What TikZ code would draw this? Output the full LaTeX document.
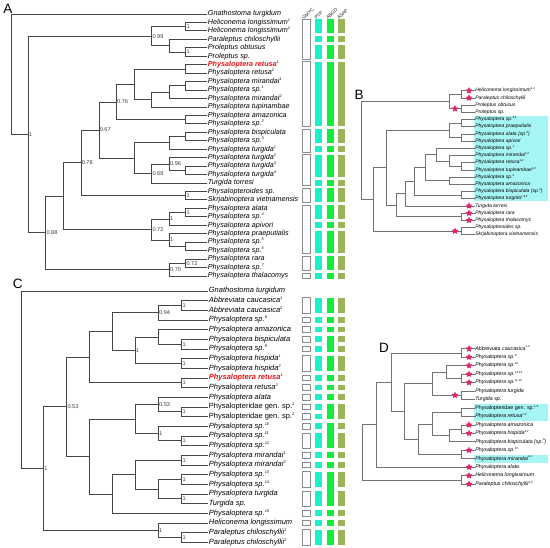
\documentclass[tikz,border=0pt]{standalone}
\usepackage{fontspec}
\setmainfont{Liberation Sans}
\usetikzlibrary{shapes.geometric}
\definecolor{linec}{RGB}{70,70,70}
\definecolor{lineb}{RGB}{115,115,115}
\definecolor{ptpc}{RGB}{30,240,200}
\definecolor{abgdc}{RGB}{20,235,60}
\definecolor{asapc}{RGB}{155,180,90}
\definecolor{gmb}{RGB}{140,140,140}
\definecolor{cyanbg}{RGB}{165,245,245}
\definecolor{starc}{RGB}{238,30,110}
\definecolor{redt}{RGB}{235,20,20}
\newcommand\sx[1]{\raisebox{0.42em}{\fontsize{3.8}{4}\selectfont #1}}
\newcommand\sxs[1]{\raisebox{0.42em}{\fontsize{2.9}{3}\selectfont #1}}
\newcommand\Gcol[3]{\draw[gmy] (302.5,{#1(#2)-3}) rectangle (310.5,{#1(#3)+2.6});}
\newcommand\Pcol[3]{\fill[ptpc] (315,{#1(#2)-3}) rectangle (322,{#1(#3)+2.6});}
\newcommand\Bcol[3]{\fill[abgdc] (326.5,{#1(#2)-3}) rectangle (333.5,{#1(#3)+2.6});}
\newcommand\Scol[3]{\fill[asapc] (337.5,{#1(#2)-3}) rectangle (345,{#1(#3)+2.6});}
\begin{document}
\begin{tikzpicture}[x=1pt,y=-1pt,
 declare function={ya(\i)=14+(\i-1)*8.45; yc(\i)=291+(\i-1)*9.665; yb(\i)=90.7+(\i-1)*7.2; yd(\i)=348.7+(\i-1)*8.46;},
 br/.style={draw=linec,line width=0.8pt},
 bs/.style={draw=lineb,line width=0.55pt},
 la/.style={anchor=west,inner sep=0.7pt,text height=5.2pt,text depth=1.5pt,font=\fontsize{7.2}{8}\selectfont\itshape},
 lcc/.style={anchor=west,inner sep=0.7pt,text height=5.4pt,text depth=1.6pt,font=\fontsize{7.5}{8}\selectfont\itshape},
 lb/.style={anchor=west,inner sep=0.6pt,text height=3.6pt,text depth=1pt,font=\fontsize{5}{6}\selectfont\itshape},
 ld/.style={anchor=west,inner sep=0.6pt,text height=3.8pt,text depth=1.1pt,font=\fontsize{5.3}{6}\selectfont\itshape},
 sl/.style={anchor=west,inner sep=0.6pt,font=\fontsize{5.6}{6}\selectfont,text=black!75},
 hd/.style={rotate=45,anchor=base west,inner sep=0pt,font=\fontsize{4.8}{5}\selectfont,text=black!85},
 pl/.style={anchor=base,inner sep=0pt,font=\fontsize{13.5}{14}\selectfont},
 st/.style={star,star points=5,star point ratio=2.1,fill=starc,inner sep=0pt,minimum size=7.2pt},
 gmy/.style={draw=gmb,fill=white,line width=0.5pt}]
\useasboundingbox (0,0) rectangle (550,548);
\fill[white] (0,0) rectangle (550,548);

% ---------------- panel letters ----------------
\node[pl] (pA) at (8,13.3) {A};
\node[pl] (pB) at (359.2,100) {B};
\node[pl] (pC) at (17.7,288.3) {C};
\node[pl] (pD) at (384,352.7) {D};

% ---------------- headers ----------------
\node[hd] (hG) at (304,20) {GMYC};
\node[hd] (hP) at (316.5,20) {PTP};
\node[hd] (hB) at (328,20) {ABGD};
\node[hd] (hS) at (339,20) {ASAP};

% ---------------- bars A ----------------
\foreach \a/\b in {2/6,7/14,15/17,18/21,22/23,24/29,30/31,32/32} {\Gcol{ya}{\a}{\b}}
\foreach \a/\b in {2/3,4/4,5/6,7/14,15/16,17/17,18/20,21/21,22/23,24/25,26/26,27/29,30/31,32/32}
 {\Pcol{ya}{\a}{\b} \Bcol{ya}{\a}{\b} \Scol{ya}{\a}{\b}}

% ---------------- bars C ----------------
\foreach \a/\b in {2/3,4/4,5/5,6/6,7/7,8/9,10/10,11/11,12/12,13/13,14/14,15/15,16/17,18/18,19/19,20/21,22/23,24/24,25/25,26/27}
 {\Gcol{yc}{\a}{\b} \Pcol{yc}{\a}{\b}}
\foreach \a/\b in {2/3,4/4,5/5,6/7,8/9,10/10,11/11,12/12,13/14,15/17,18/18,19/19,20/23,24/24,25/25,26/27}
 {\Bcol{yc}{\a}{\b}}
\foreach \a/\b in {2/3,4/4,5/5,6/6,7/7,8/9,10/10,11/11,12/12,13/14,15/15,16/17,18/18,19/19,20/21,22/23,24/24,25/25,26/27}
 {\Scol{yc}{\a}{\b}}

% ---------------- cyan backgrounds B, D ----------------
\fill[cyanbg] (474.3,116) rectangle (548.3,200.6);
\fill[cyanbg] (474.3,404) rectangle (548.3,420.7);
\fill[cyanbg] (474.3,455.3) rectangle (548.3,462.7);

% ================= PANEL A =================
\foreach \i/\t in {1/{Gnathostoma turgidum},2/{Heliconema longissimum\sx{1}},3/{Heliconema longissimum\sx{2}},
 4/{Paraleptus chiloschyllii},5/{Proleptus obtusus},6/{Proleptus sp.},
 7/{\textcolor{redt}{\bfseries Physaloptera retusa\sx{1}}},8/{Physaloptera retusa\sx{2}},
 9/{Physaloptera mirandai\sx{1}},10/{Physaloptera sp.\sx{1}},11/{Physaloptera mirandai\sx{2}},
 12/{Physaloptera tupinambae},13/{Physaloptera amazonica},14/{Physaloptera sp.\sx{2}},
 15/{Physaloptera bispiculata},16/{Physaloptera sp.\sx{3}},17/{Physaloptera turgida\sx{1}},
 18/{Physaloptera turgida\sx{2}},19/{Physaloptera turgida\sx{3}},20/{Physaloptera turgida\sx{4}},
 21/{Turgida torresi},22/{Physalopteroides sp.},23/{Skrjabinoptera vietnamensis},
 24/{Physaloptera alata},25/{Physaloptera sp.\sx{4}},26/{Physaloptera apivori},
 27/{Physaloptera praeputialis},28/{Physaloptera sp.\sx{5}},29/{Physaloptera sp.\sx{6}},
 30/{Physaloptera rara},31/{Physaloptera sp.\sx{7}},32/{Physaloptera thalacomys}}
 {\coordinate (tA\i) at (207,{ya(\i)}); \node[la] (LA\i) at (tA\i) {\t};}

\coordinate (aRoot) at (11,74.27);
\coordinate (aN1) at (28,134.535);
\coordinate (a099) at (151.7,36.18);
\coordinate (aHel) at (185.7,26.675);
\coordinate (aPpr) at (169.3,45.69);
\coordinate (aPro) at (185.7,52.025);
\coordinate (a088) at (45.7,232.89);
\coordinate (aX) at (63.3,196.17);
\coordinate (a078) at (81,162.86);
\coordinate (a067) at (99,130.05);
\coordinate (a076) at (116.3,101.93);
\coordinate (aRm) at (134,84.24);
\coordinate (aRet) at (185.7,68.925);
\coordinate (aTup) at (151.7,99.555);
\coordinate (aMir2) at (169.3,92.16);
\coordinate (aMir) at (185.7,85.825);
\coordinate (aAma) at (185.7,119.625);
\coordinate (aBtg) at (134,158.18);
\coordinate (aBt) at (169.3,142.86);
\coordinate (aBis) at (185.7,136.525);
\coordinate (a068) at (151.7,173.49);
\coordinate (a096) at (169.3,163.99);
\coordinate (aT34) at (185.7,170.325);
\coordinate (aPds) at (185.7,195.675);
\coordinate (a072) at (151.7,229.475);
\coordinate (aAlap) at (169.3,218.91);
\coordinate (aAla) at (185.7,212.575);
\coordinate (aPrp) at (169.3,240.04);
\coordinate (aS56) at (185.7,246.375);
\coordinate (a070) at (169.3,269.61);
\coordinate (aRar) at (185.7,263.275);

\foreach \p/\c in {aRoot/tA1,aRoot/aN1,aN1/a099,aN1/a088,a099/aHel,a099/aPpr,aHel/tA2,aHel/tA3,
 aPpr/tA4,aPpr/aPro,aPro/tA5,aPro/tA6,a088/aX,a088/a070,aX/a078,aX/a072,a078/a067,a078/aPds,
 a067/a076,a067/aBtg,a076/aRm,a076/aAma,aRm/aRet,aRm/aTup,aRet/tA7,aRet/tA8,aTup/aMir2,aTup/tA12,
 aMir2/aMir,aMir2/tA11,aMir/tA9,aMir/tA10,aAma/tA13,aAma/tA14,aBtg/aBt,aBtg/a068,aBt/aBis,aBt/tA17,
 aBis/tA15,aBis/tA16,a068/a096,a068/tA21,a096/tA18,a096/aT34,aT34/tA19,aT34/tA20,aPds/tA22,aPds/tA23,
 a072/aAlap,a072/aPrp,aAlap/aAla,aAlap/tA26,aAla/tA24,aAla/tA25,aPrp/tA27,aPrp/aS56,aS56/tA28,aS56/tA29,
 a070/aRar,a070/tA32,aRar/tA30,aRar/tA31}
 {\draw[br] (\p) |- (\c);}

\foreach \n/\v in {aHel/1,a099/0.99,aPro/1,aN1/1,a076/0.76,a067/0.67,a078/0.78,a096/0.96,a068/0.68,
 aPds/1,a088/0.88,aAla/1,aAlap/1,a072/0.72,aPrp/1,aRar/0.72,a070/0.70}
 {\node[sl] (s\n) at (\n) {\v};}

% ================= PANEL C =================
\foreach \i/\t in {1/{Gnathostoma turgidum},2/{Abbreviata caucasica\sx{1}},3/{Abbreviata caucasica\sx{2}},
 4/{Physaloptera sp.\sx{8}},5/{Physaloptera amazonica},6/{Physaloptera bispiculata},7/{Physaloptera sp.\sx{9}},
 8/{Physaloptera hispida\sx{1}},9/{Physaloptera hispida\sx{2}},
 10/{\textcolor{redt}{\bfseries Physaloptera retusa\sx{1}}},11/{Physaloptera retusa\sx{2}},
 12/{Physaloptera alata},13/{\upshape Physalopteridae gen. sp.\sx{1}},14/{\upshape Physalopteridae gen. sp.\sx{2}},
 15/{Physaloptera sp.\sx{10}},16/{Physaloptera sp.\sx{11}},17/{Physaloptera sp.\sx{12}},
 18/{Physaloptera mirandai\sx{1}},19/{Physaloptera mirandai\sx{2}},20/{Physaloptera sp.\sx{13}},
 21/{Physaloptera sp.\sx{14}},22/{Physaloptera turgida},23/{Turgida sp.},24/{Physaloptera sp.\sx{15}},
 25/{Heliconema longissimum},26/{Paraleptus chiloschyllii\sx{1}},27/{Paraleptus chiloschyllii\sx{2}}}
 {\coordinate (tC\i) at (208,{yc(\i)}); \node[lcc] (LC\i) at (tC\i) {\t};}

\coordinate (cRoot) at (21,379.76);
\coordinate (c43) at (43.7,468.52);
\coordinate (c053a) at (66.7,406.83);
\coordinate (c89a) at (89.3,357.145);
\coordinate (c112a) at (112.7,331.472);
\coordinate (c094) at (158.3,312.746);
\coordinate (cAbb) at (181.7,305.4975);
\coordinate (c135a) at (135,350.198);
\coordinate (cAmz) at (158.3,336.909);
\coordinate (cBs9) at (181.7,344.1575);
\coordinate (cHsp) at (181.7,363.4875);
\coordinate (cRet) at (181.7,382.8175);
\coordinate (c89b) at (89.3,456.51);
\coordinate (c135b) at (135,419.06);
\coordinate (c053b) at (158.3,404.564);
\coordinate (cGen) at (181.7,411.8125);
\coordinate (cS10) at (158.3,433.559);
\coordinate (cS1112) at (181.7,440.8075);
\coordinate (c112b) at (112.7,493.965);
\coordinate (c135c) at (135,474.635);
\coordinate (cMrd) at (181.7,460.1375);
\coordinate (cSt) at (158.3,489.1325);
\coordinate (cS1314) at (181.7,479.4675);
\coordinate (cTur) at (181.7,498.7975);
\coordinate (cHel) at (158.3,530.209);
\coordinate (cPar) at (181.7,537.4575);

\foreach \p/\c in {cRoot/tC1,cRoot/c43,c43/c053a,c43/cHel,c053a/c89a,c053a/c89b,c89a/c112a,c89a/cRet,
 c112a/c094,c112a/c135a,c094/cAbb,c094/tC4,cAbb/tC2,cAbb/tC3,c135a/cAmz,c135a/cHsp,cAmz/tC5,cAmz/cBs9,
 cBs9/tC6,cBs9/tC7,cHsp/tC8,cHsp/tC9,cRet/tC10,cRet/tC11,c89b/c135b,c89b/c112b,c135b/c053b,c135b/cS10,
 c053b/tC12,c053b/cGen,cGen/tC13,cGen/tC14,cS10/tC15,cS10/cS1112,cS1112/tC16,cS1112/tC17,
 c112b/c135c,c112b/tC24,c135c/cMrd,c135c/cSt,cMrd/tC18,cMrd/tC19,cSt/cS1314,cSt/cTur,
 cS1314/tC20,cS1314/tC21,cTur/tC22,cTur/tC23,cHel/tC25,cHel/cPar,cPar/tC26,cPar/tC27}
 {\draw[br] (\p) |- (\c);}

\foreach \n/\v in {cAbb/1,c094/0.94,cBs9/1,c135a/1,cHsp/1,cRet/1,c053a/0.53,c053b/0.53,cGen/1,
 cS10/1,cS1112/1,cMrd/1,cS1314/1,cTur/1,c43/1,cHel/1,cPar/1}
 {\node[sl] (s\n) at (\n) {\v};}

% ================= PANEL B =================
\foreach \i/\t in {1/{Heliconema longissimum\sxs{1,2}},2/{Paraleptus chiloschyllii},3/{Proleptus obtusus},
 4/{Proleptus sp.},5/{Physaloptera sp.\sxs{5,6}},6/{Physaloptera praeputialis},7/{Physaloptera alata (sp.\sxs{4})},
 8/{Physaloptera apivori},9/{Physaloptera sp.\sxs{1}},10/{Physaloptera mirandai\sxs{1,2}},
 11/{Physaloptera retusa\sxs{1,2}},12/{Physaloptera tupinambae\sxs{1,2}},13/{Physaloptera sp.\sxs{2}},
 14/{Physaloptera amazonica},15/{Physaloptera bispiculata (sp.\sxs{3})},16/{Physaloptera turgida\sxs{1,3,4}},
 17/{Turgida torresi},18/{Physaloptera rara},19/{Physaloptera thalacomys},20/{Physalopteroides sp.},
 21/{Skrjabinoptera vietnamensis}}
 {\coordinate (tB\i) at (474.5,{yb(\i)}); \node[lb] (LB\i) at (tB\i) {\t};}

\coordinate (bRoot) at (361,150.46);
\coordinate (bTop) at (449,101.5);
\coordinate (bHp) at (461,94.3);
\coordinate (bPro) at (461,108.7);
\coordinate (bBig) at (373.3,199.42);
\coordinate (bM) at (386.7,167.73);
\coordinate (bG1) at (449,130.3);
\coordinate (bS56) at (461,123.1);
\coordinate (bAa) at (461,137.5);
\coordinate (bR) at (396,205.17);
\coordinate (bT) at (405,193.64);
\coordinate (bU) at (414,181.375);
\coordinate (bV) at (425,167.65);
\coordinate (bW) at (436.7,154.6);
\coordinate (bMr) at (449,160.9);
\coordinate (bRt) at (461,166.3);
\coordinate (bSa) at (449,180.7);
\coordinate (bBt) at (461,195.1);
\coordinate (bRr) at (461,216.7);
\coordinate (bPs) at (461,231.1);

\foreach \p/\c in {bRoot/bTop,bRoot/bBig,bTop/bHp,bTop/bPro,bHp/tB1,bHp/tB2,bPro/tB3,bPro/tB4,
 bBig/bM,bBig/bPs,bM/bG1,bM/bR,bG1/bS56,bG1/bAa,bS56/tB5,bS56/tB6,bAa/tB7,bAa/tB8,
 bR/bT,bR/bRr,bT/bU,bT/tB17,bU/bV,bU/bBt,bV/bW,bV/bSa,bW/tB9,bW/bMr,bMr/tB10,bMr/bRt,
 bRt/tB11,bRt/tB12,bSa/tB13,bSa/tB14,bBt/tB15,bBt/tB16,bRr/tB18,bRr/tB19,bPs/tB20,bPs/tB21}
 {\draw[bs] (\p) |- (\c);}

\foreach \i in {1,2,17,18,19} {\node[st] (sB\i) at (469,{yb(\i)}) {};}
\node[st] (sBpro) at (455,108.7) {};
\node[st] (sBps) at (455,231.1) {};

% ================= PANEL D =================
\foreach \i/\t in {1/{Abbreviata caucasica\sxs{1,2}},2/{Physaloptera sp.\sxs{8}},3/{Physaloptera sp.\sxs{10}},
 4/{Physaloptera sp.\sxs{13,14}},5/{Physaloptera sp.\sxs{11,12}},6/{Physaloptera turgida},7/{Turgida sp.},
 8/{\upshape Physalopteridae gen. sp.\sxs{1,2}},9/{Physaloptera retusa\sxs{1,2}},10/{Physaloptera amazonica},
 11/{Physaloptera hispida\sxs{1,2}},12/{Physaloptera bispiculata (sp.\sxs{9})},13/{Physaloptera sp.\sxs{15}},
 14/{Physaloptera mirandai\sxs{1,2}},15/{Physaloptera alata},16/{Heliconema longissimum},
 17/{Paraleptus chiloschyllii\sxs{1,2}}}
 {\coordinate (tD\i) at (474.5,{yd(\i)}); \node[ld] (LD\i) at (tD\i) {\t};}

\coordinate (dRoot) at (362.3,452.235);
\coordinate (d376) at (376.7,424.64);
\coordinate (d391) at (391,382.14);
\coordinate (dAb) at (461,352.93);
\coordinate (d404) at (404.3,411.357);
\coordinate (dUp) at (432.3,383.5975);
\coordinate (dS10) at (446.7,371.965);
\coordinate (dS1x) at (461,378.31);
\coordinate (dTg) at (461,395.23);
\coordinate (dLo) at (418.3,439.116);
\coordinate (dLg) at (432.3,423.7825);
\coordinate (dGr) at (461,412.15);
\coordinate (dAhb) at (449,435.415);
\coordinate (dAh) at (461,429.07);
\coordinate (dSm) at (461,454.45);
\coordinate (dHp) at (461,479.83);

\foreach \p/\c in {dRoot/d376,dRoot/dHp,d376/d391,d376/tD15,d391/dAb,d391/d404,dAb/tD1,dAb/tD2,
 d404/dUp,d404/dLo,dUp/dS10,dUp/dTg,dS10/tD3,dS10/dS1x,dS1x/tD4,dS1x/tD5,dTg/tD6,dTg/tD7,
 dLo/dLg,dLo/dSm,dLg/dGr,dLg/dAhb,dGr/tD8,dGr/tD9,dAhb/dAh,dAhb/tD12,dAh/tD10,dAh/tD11,
 dSm/tD13,dSm/tD14,dHp/tD16,dHp/tD17}
 {\draw[bs] (\p) |- (\c);}

\foreach \i in {1,2,3,4,5,10,11,13,15,16,17} {\node[st] (sD\i) at (469,{yd(\i)}) {};}
\node[st] (sDtg) at (455,395.23) {};

\end{tikzpicture}
\end{document}
